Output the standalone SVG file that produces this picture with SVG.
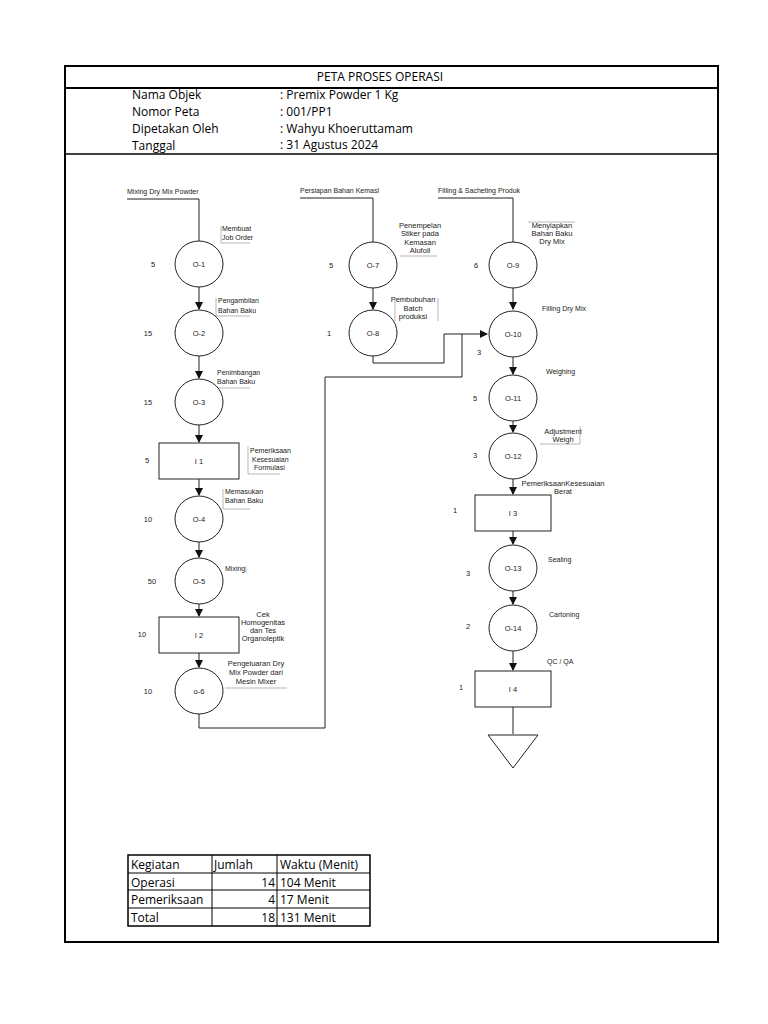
<svg xmlns="http://www.w3.org/2000/svg" width="768" height="1024" viewBox="0 0 768 1024">
<style>
.h{font-family:"Open Sans","Liberation Sans",Arial,sans-serif;font-size:12px;fill:#000}
.s{font-family:"Liberation Sans",Arial,sans-serif;font-size:7px;fill:#222}
.n{font-family:"Liberation Sans",Arial,sans-serif;font-size:7.5px;fill:#222;text-anchor:middle}
.sh{fill:#fff;stroke:#222;stroke-width:1}
.c{fill:none;stroke:#222;stroke-width:1}
.t{fill:none;stroke:#888;stroke-width:0.6}
</style>
<defs><marker id="a" markerWidth="8" markerHeight="8" refX="7" refY="4" orient="auto" markerUnits="userSpaceOnUse"><path d="M0,0 L8,4 L0,8 z" fill="#111"/></marker></defs>
<rect width="768" height="1024" fill="#fff"/>
<g id="frame">
<rect x="65" y="66" width="653" height="876" fill="none" stroke="#000" stroke-width="2"/>
<line x1="65" y1="88" x2="718" y2="88" stroke="#000" stroke-width="2"/>
<line x1="65" y1="154" x2="718" y2="154" stroke="#000" stroke-width="1.5"/>
<text class="h" x="380" y="81" text-anchor="middle" font-size="11">PETA PROSES OPERASI</text>
<text class="h" x="132" y="99">Nama Objek</text><text class="h" x="280" y="99">: Premix Powder 1 Kg</text>
<text class="h" x="132" y="116">Nomor Peta</text><text class="h" x="280" y="116">: 001/PP1</text>
<text class="h" x="132" y="133">Dipetakan Oleh</text><text class="h" x="280" y="133">: Wahyu Khoeruttamam</text>
<text class="h" x="132" y="150">Tanggal</text><text class="h" x="280" y="149">: 31 Agustus 2024</text>
</g>
<g id="connectors">
<polyline class="c" points="127,199 199,199 199,241"/>
<line class="c" x1="199" y1="287" x2="199" y2="309" marker-end="url(#a)"/>
<line class="c" x1="199" y1="356" x2="199" y2="378" marker-end="url(#a)"/>
<line class="c" x1="199" y1="425" x2="199" y2="442" marker-end="url(#a)"/>
<line class="c" x1="199" y1="479" x2="199" y2="495" marker-end="url(#a)"/>
<line class="c" x1="199" y1="542" x2="199" y2="557" marker-end="url(#a)"/>
<line class="c" x1="199" y1="604" x2="199" y2="616" marker-end="url(#a)"/>
<line class="c" x1="199" y1="653" x2="199" y2="667" marker-end="url(#a)"/>
<polyline class="c" points="199,714 199,728 325,728 325,377 462,377 462,334"/>
<polyline class="c" points="300,198 373,198 373,242"/>
<line class="c" x1="373" y1="288" x2="373" y2="309" marker-end="url(#a)"/>
<polyline class="c" points="373,356 373,363 444,363 444,334 487,334" marker-end="url(#a)"/>
<polyline class="c" points="438,198 513,198 513,242"/>
<line class="c" x1="513" y1="288" x2="513" y2="309" marker-end="url(#a)"/>
<line class="c" x1="513" y1="357" x2="513" y2="374" marker-end="url(#a)"/>
<line class="c" x1="513" y1="421" x2="513" y2="432" marker-end="url(#a)"/>
<line class="c" x1="513" y1="479" x2="513" y2="494" marker-end="url(#a)"/>
<line class="c" x1="513" y1="531" x2="513" y2="544" marker-end="url(#a)"/>
<line class="c" x1="513" y1="591" x2="513" y2="604" marker-end="url(#a)"/>
<line class="c" x1="513" y1="651" x2="513" y2="670" marker-end="url(#a)"/>
<line class="c" x1="513" y1="707" x2="513" y2="734"/>
</g>
<g id="labels">
<text class="s" x="127" y="194">Mixing Dry Mix Powder</text>
<text class="s" x="300" y="193">Persiapan Bahan Kemasl</text>
<text class="s" x="438" y="193">Filling &amp; Sacheting Produk</text>
<text class="s" x="222" y="231">Membuat</text><text class="s" x="222" y="240">Job Order</text>
<text class="s" x="218" y="303">Pengambilan</text><text class="s" x="218" y="313">Bahan Baku</text>
<text class="s" x="217" y="375">Penimbangan</text><text class="s" x="217" y="384">Bahan Baku</text>
<text class="s" x="250" y="453">Pemeriksaan</text><text class="s" x="252" y="462">Kesesuaian</text><text class="s" x="254" y="470">Formulasi</text>
<text class="s" x="225" y="494">Memasukan</text><text class="s" x="225" y="503">Bahan Baku</text>
<text class="s" x="225" y="571">Mixing</text>
<text class="n" x="263" y="617">Cek</text><text class="n" x="263" y="625">Homogenitas</text><text class="n" x="263" y="633">dan Tes</text><text class="n" x="263" y="641">Organoleptik</text>
<text class="n" x="256" y="666">Pengeluaran Dry</text><text class="n" x="256" y="675">Mix Powder dari</text><text class="n" x="256" y="684">Mesin Mixer</text>
<text class="n" x="420" y="228">Penempelan</text><text class="n" x="420" y="236">Stiker pada</text><text class="n" x="420" y="245">Kemasan</text><text class="n" x="420" y="253">Alufoil</text>
<text class="n" x="413" y="302">Pembubuhan</text><text class="n" x="413" y="311">Batch</text><text class="n" x="413" y="319">produksi</text>
<text class="n" x="552" y="228">Menyiapkan</text><text class="n" x="552" y="236">Bahan Baku</text><text class="n" x="552" y="244">Dry Mix</text>
<text class="s" x="542" y="311">Filling Dry Mix</text>
<text class="s" x="546" y="374">Weighing</text>
<text class="n" x="563" y="434">Adjustment</text><text class="n" x="563" y="442">Weigh</text>
<text class="n" x="563" y="486">PemeriksaanKesesuaian</text><text class="n" x="563" y="494">Berat</text>
<text class="s" x="548" y="562">Sealing</text>
<text class="s" x="549" y="617">Cartoning</text>
<text class="s" x="547" y="664">QC / QA</text>
<g class="t">
<polyline points="221,226 221,243 250,243"/><polyline points="216,298 216,316 250,316"/><polyline points="216,388 250,388"/>
<polyline points="248,446 248,474 280,474"/><polyline points="223,489 223,509 250,509"/><polyline points="246,566 246,573"/>
<polyline points="225,688 287,688"/><polyline points="400,256 437,256"/><polyline points="395,298 395,321"/><polyline points="438,298 438,321"/>
<polyline points="528,222 575,222"/><polyline points="580,426 580,444 540,444"/>
</g>
</g>
<g id="times" class="n">
<text x="153" y="267">5</text><text x="148" y="336">15</text><text x="148" y="405">15</text><text x="147" y="463">5</text>
<text x="148" y="522">10</text><text x="152" y="584">50</text><text x="142" y="637">10</text><text x="148" y="694">10</text>
<text x="331" y="268">5</text><text x="329" y="336">1</text>
<text x="476" y="268">6</text><text x="479" y="355">3</text><text x="475" y="401">5</text><text x="475" y="458">3</text>
<text x="455" y="513">1</text><text x="468" y="576">3</text><text x="468" y="629">2</text><text x="461" y="690">1</text>
</g>
<g id="O-1"><ellipse class="sh" cx="199" cy="264" rx="24" ry="23"/><text class="n" x="199" y="267">O-1</text></g>
<g id="O-2"><ellipse class="sh" cx="199" cy="333" rx="24" ry="23"/><text class="n" x="199" y="336">O-2</text></g>
<g id="O-3"><ellipse class="sh" cx="199" cy="402" rx="24" ry="23"/><text class="n" x="199" y="405">O-3</text></g>
<g id="I1"><rect class="sh" x="159" y="443" width="80" height="36"/><text class="n" x="199" y="464">I 1</text></g>
<g id="O-4"><ellipse class="sh" cx="199" cy="519" rx="24" ry="23"/><text class="n" x="199" y="522">O-4</text></g>
<g id="O-5"><ellipse class="sh" cx="199" cy="581" rx="24" ry="23"/><text class="n" x="199" y="584">O-5</text></g>
<g id="I2"><rect class="sh" x="159" y="617" width="80" height="36"/><text class="n" x="199" y="638">I 2</text></g>
<g id="O-6"><ellipse class="sh" cx="199" cy="691" rx="24" ry="23"/><text class="n" x="199" y="694">o-6</text></g>
<g id="O-7"><ellipse class="sh" cx="373" cy="265" rx="24" ry="23"/><text class="n" x="373" y="268">O-7</text></g>
<g id="O-8"><ellipse class="sh" cx="373" cy="333" rx="24" ry="23"/><text class="n" x="373" y="336">O-8</text></g>
<g id="O-9"><ellipse class="sh" cx="513" cy="265" rx="24" ry="23"/><text class="n" x="513" y="268">O-9</text></g>
<g id="O-10"><ellipse class="sh" cx="513" cy="334" rx="24" ry="23"/><text class="n" x="513" y="337">O-10</text></g>
<g id="O-11"><ellipse class="sh" cx="513" cy="398" rx="24" ry="23"/><text class="n" x="513" y="401">O-11</text></g>
<g id="O-12"><ellipse class="sh" cx="513" cy="456" rx="24" ry="23"/><text class="n" x="513" y="459">O-12</text></g>
<g id="I3"><rect class="sh" x="475" y="495" width="76" height="36"/><text class="n" x="513" y="516">I 3</text></g>
<g id="O-13"><ellipse class="sh" cx="513" cy="568" rx="24" ry="23"/><text class="n" x="513" y="571">O-13</text></g>
<g id="O-14"><ellipse class="sh" cx="513" cy="628" rx="24" ry="23"/><text class="n" x="513" y="631">O-14</text></g>
<g id="I4"><rect class="sh" x="475" y="671" width="76" height="36"/><text class="n" x="513" y="692">I 4</text></g>
<g id="storage"><polygon class="sh" points="488,735 538,735 513,768"/></g>
<g id="summary" font-family="'Open Sans','Liberation Sans',Arial,sans-serif" font-size="12">
<rect x="128" y="855" width="242" height="71" fill="none" stroke="#000" stroke-width="1.5"/>
<g stroke="#000" stroke-width="1"><line x1="128" y1="873" x2="370" y2="873"/><line x1="128" y1="890" x2="370" y2="890"/><line x1="128" y1="908" x2="370" y2="908"/><line x1="212" y1="855" x2="212" y2="926"/><line x1="277" y1="855" x2="277" y2="926"/></g>
<text x="131" y="869">Kegiatan</text><text x="214" y="869">Jumlah</text><text x="280" y="869">Waktu (Menit)</text>
<text x="131" y="887">Operasi</text><text x="275" y="887" text-anchor="end">14</text><text x="280" y="887">104 Menit</text>
<text x="131" y="904">Pemeriksaan</text><text x="275" y="904" text-anchor="end">4</text><text x="280" y="904">17 Menit</text>
<text x="131" y="922">Total</text><text x="275" y="922" text-anchor="end">18</text><text x="280" y="922">131 Menit</text>
</g>
</svg>
